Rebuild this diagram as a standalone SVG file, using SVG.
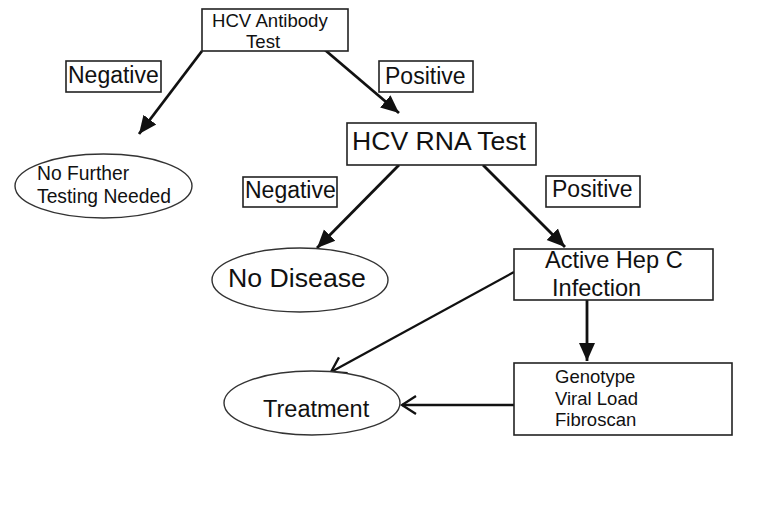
<svg xmlns="http://www.w3.org/2000/svg" width="772" height="510" viewBox="0 0 772 510">
<style>
.box{fill:#fff;stroke:#222;stroke-width:1.6}
.ell{fill:#fff;stroke:#333;stroke-width:1.4}
.t{font-family:"Liberation Sans",Arial,sans-serif;fill:#111}
.c{stroke:#111;stroke-width:2.8;fill:none}
.c2{stroke:#111;stroke-width:2.3;fill:none}
</style>
<defs>
<marker id="fa" markerUnits="userSpaceOnUse" markerWidth="22" markerHeight="20" refX="18" refY="10" orient="auto">
<path d="M0,2 L18,10 L0,18 Z" fill="#111"/>
</marker>
<marker id="oa" markerUnits="userSpaceOnUse" markerWidth="20" markerHeight="22" refX="16" refY="11" orient="auto">
<path d="M2,2 L16,11 L2,20" fill="none" stroke="#111" stroke-width="2.3"/>
</marker>
</defs>
<rect width="772" height="510" fill="#fff"/>
<g id="connectors">
<line class="c" x1="202" y1="51" x2="139" y2="134" marker-end="url(#fa)"/>
<line class="c" x1="325" y1="50" x2="399" y2="113" marker-end="url(#fa)"/>
<line class="c" x1="399" y1="165" x2="317" y2="248" marker-end="url(#fa)"/>
<line class="c" x1="483" y1="165" x2="565" y2="247" marker-end="url(#fa)"/>
<line class="c" x1="587" y1="300" x2="587" y2="361" marker-end="url(#fa)"/>
<line class="c2" x1="514" y1="272" x2="331" y2="372" marker-end="url(#oa)"/>
<line class="c2" x1="514" y1="405" x2="402" y2="405" marker-end="url(#oa)"/>
</g>
<g id="antibody">
<rect class="box" x="202" y="9" width="146" height="42"/>
<text class="t" x="212" y="27" font-size="18.6">HCV Antibody</text>
<text class="t" x="246" y="48" font-size="18.6">Test</text>
</g>
<g id="neg1">
<rect class="box" x="66" y="61" width="95" height="31"/>
<text class="t" x="68" y="83" font-size="23">Negative</text>
</g>
<g id="pos1">
<rect class="box" x="379" y="61" width="94" height="31"/>
<text class="t" x="385" y="84" font-size="23">Positive</text>
</g>
<g id="nofurther">
<ellipse class="ell" cx="103.5" cy="186" rx="88.5" ry="32"/>
<text class="t" x="37" y="180" font-size="19.3">No Further</text>
<text class="t" x="37" y="203" font-size="19.3">Testing Needed</text>
</g>
<g id="rna">
<rect class="box" x="347" y="123" width="189" height="42"/>
<text class="t" x="352" y="150" font-size="26.6">HCV RNA Test</text>
</g>
<g id="neg2">
<rect class="box" x="243" y="177" width="94" height="30"/>
<text class="t" x="245" y="198" font-size="23">Negative</text>
</g>
<g id="pos2">
<rect class="box" x="546" y="176" width="94" height="31"/>
<text class="t" x="552" y="197" font-size="23">Positive</text>
</g>
<g id="nodisease">
<ellipse class="ell" cx="300" cy="280" rx="88" ry="32"/>
<text class="t" x="228" y="287" font-size="26.7">No Disease</text>
</g>
<g id="active">
<rect class="box" x="514" y="249" width="199" height="51"/>
<text class="t" x="545" y="268" font-size="23.6">Active Hep C</text>
<text class="t" x="552" y="296" font-size="23.6">Infection</text>
</g>
<g id="genotype">
<rect class="box" x="514" y="363" width="218" height="72"/>
<text class="t" x="555" y="383" font-size="18.5">Genotype</text>
<text class="t" x="555" y="405" font-size="18.5">Viral Load</text>
<text class="t" x="555" y="426" font-size="18.5">Fibroscan</text>
</g>
<g id="treatment">
<ellipse class="ell" cx="312" cy="403" rx="88" ry="32"/>
<text class="t" x="263" y="417" font-size="23.5">Treatment</text>
</g>
</svg>
